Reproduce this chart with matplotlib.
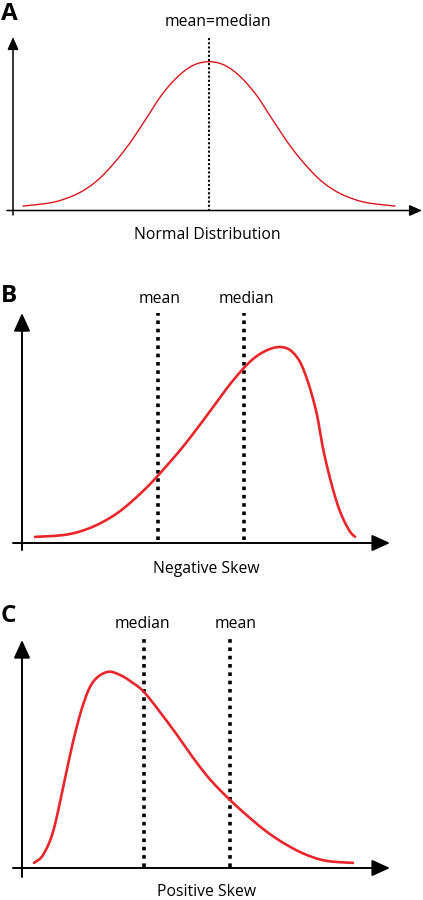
import matplotlib
matplotlib.use("Agg")
import matplotlib.pyplot as plt
import numpy as np

plt.rcParams['font.family'] = ['Open Sans', 'DejaVu Sans']

# --- data (x in arbitrary units, height normalised to peak = 1) ---
normal_x = [2.5, 9, 13, 17, 21, 25, 29, 33, 37, 41, 45, 49,
            53, 57, 61, 65, 69, 73, 77, 81, 85, 89, 95.5]
normal_y = [0.03, 0.05, 0.078, 0.125, 0.2, 0.31, 0.445, 0.605, 0.77, 0.895, 0.975, 1.0,
            0.975, 0.895, 0.77, 0.605, 0.445, 0.31, 0.2, 0.125, 0.078, 0.05, 0.03]
normal_lines = [49]
normal_labels = ['mean=median']

neg_x = [3.25, 8, 12, 16, 20, 24, 28, 32, 36, 40, 44, 48, 52, 56, 59, 62, 64.5,
         66.75, 68.75, 70.25, 72, 73.75, 75.25, 77, 78.75, 80.25, 82, 83.25]
neg_y = [0.031, 0.036, 0.046, 0.069, 0.105, 0.155, 0.222, 0.3, 0.39, 0.485, 0.59, 0.70, 0.81, 0.905, 0.958, 0.99, 1.0,
         0.988, 0.948, 0.891, 0.789, 0.653, 0.483, 0.33, 0.205, 0.125, 0.058, 0.032]
neg_lines = [34, 55.5]
neg_labels = ['mean', 'median']

pos_x = [3, 5.25, 7.75, 10.25, 12.75, 15.25, 17.75, 21.25, 24.5, 27.75, 30.5,
         34.5, 38.75, 42.75, 47, 51.75, 56.25, 61.25, 66.25, 71.25, 76.25, 82.75]
pos_y = [0.026, 0.066, 0.184, 0.408, 0.643, 0.832, 0.949, 1.0, 0.985, 0.944, 0.898,
         0.796, 0.679, 0.563, 0.452, 0.352, 0.268, 0.184, 0.117, 0.066, 0.036, 0.026]
pos_lines = [30.5, 52]
pos_labels = ['median', 'mean']

titles = ['Normal Distribution', 'Negative Skew', 'Positive Skew']
letters = ['A', 'B', 'C']

W, H = 423, 900


def smooth(x, y, n=24):
    # Catmull-Rom through the read points, just for drawing
    p = np.column_stack([x, y]).astype(float)
    p = np.vstack([p[0], p, p[-1]])
    out = []
    t = np.linspace(0, 1, n, endpoint=False)[:, None]
    for i in range(1, len(p) - 2):
        p0, p1, p2, p3 = p[i - 1], p[i], p[i + 1], p[i + 2]
        seg = 0.5 * (2 * p1 + (-p0 + p2) * t + (2 * p0 - 5 * p1 + 4 * p2 - p3) * t ** 2
                     + (-p0 + 3 * p1 - 3 * p2 + p3) * t ** 3)
        out.append(seg)
    out.append(p[-2][None])
    pts = np.vstack(out)
    return pts[:, 0], pts[:, 1]


def make_axes(fig, ox, oy, peak_px, top, bottom):
    # axes spanning the full width, origin of the drawn axes at pixel (ox, oy)
    ax = fig.add_axes([0, 1 - bottom / H, 1, (bottom - top) / H])
    ax.set_xlim(-ox / 4, (W - ox) / 4)
    ax.set_ylim((oy - bottom) / peak_px, (oy - top) / peak_px)
    ax.axis('off')
    return ax


def arrow(ax, start, tip, lw, hl, hw):
    ax.annotate('', xy=tip, xytext=start, annotation_clip=False,
                arrowprops=dict(arrowstyle=f'-|>,head_length={hl},head_width={hw}',
                                color='black', lw=lw, shrinkA=0, shrinkB=0))


fig = plt.figure(figsize=(W / 100, H / 100), dpi=100)

panels = [
    dict(x=normal_x, y=normal_y, lines=normal_lines, labels=normal_labels,
         ox=13, oy=210.5, peak=148.8, top=0, bottom=250,
         y_lo=-0.03, y_tip=1.166, x_lo=-1.5, x_tip=102.25,
         line_top=1.173, line_bot=-0.003, lab_x=[51.25], lab_y=1.24, title_x=48.5, title_y=-0.192,
         red='#d9161c', clw=1.0, alw=1.1, hl=0.75, hw=0.33,
         dot=dict(lw=1.5, dashes=(1.0, 1.0)), letter_y=20),
    dict(x=neg_x, y=neg_y, lines=neg_lines, labels=neg_labels,
         ox=22, oy=543, peak=196, top=270, bottom=580,
         y_lo=-0.036, y_tip=1.173, x_lo=-2.25, x_tip=92,
         line_top=1.173, line_bot=0.015, lab_x=[34.5, 56], lab_y=1.223, title_x=46, title_y=-0.152,
         red='#e8262b', clw=1.9, alw=1.4, hl=1.1, hw=0.5,
         dot=dict(lw=2.6, dashes=(1.0, 1.3)), letter_y=302),
    dict(x=pos_x, y=pos_y, lines=pos_lines, labels=pos_labels,
         ox=22, oy=868, peak=196, top=590, bottom=900,
         y_lo=-0.046, y_tip=1.163, x_lo=-2.25, x_tip=92,
         line_top=1.168, line_bot=0.005, lab_x=[30, 53.5], lab_y=1.223, title_x=46.25, title_y=-0.143,
         red='#e8262b', clw=1.9, alw=1.4, hl=1.1, hw=0.5,
         dot=dict(lw=2.6, dashes=(1.0, 1.3)), letter_y=622),
]

for p, title, letter in zip(panels, titles, letters):
    ax = make_axes(fig, p['ox'], p['oy'], p['peak'], p['top'], p['bottom'])

    # axes with arrow heads
    arrow(ax, (0, p['y_lo']), (0, p['y_tip']), p['alw'], p['hl'], p['hw'])
    arrow(ax, (p['x_lo'], 0), (p['x_tip'], 0), p['alw'], p['hl'], p['hw'])

    # mean / median markers
    for xv in p['lines']:
        ax.plot([xv, xv], [p['line_bot'], p['line_top']], color='black',
                lw=p['dot']['lw'], dashes=p['dot']['dashes'], solid_capstyle='butt',
                dash_capstyle='butt', clip_on=False)
    for xl, lab in zip(p['lab_x'], p['labels']):
        ax.text(xl, p['lab_y'], lab, ha='center', va='baseline', fontsize=11.3)

    sx, sy = smooth(p['x'], p['y'])
    ax.plot(sx, sy, color=p['red'], lw=p['clw'], solid_capstyle='round', clip_on=False)

    ax.text(p['title_x'], p['title_y'], title, ha='center', va='baseline', fontsize=11.3)

    fig.text(1 / W, 1 - p['letter_y'] / H, letter, ha='left', va='baseline',
             fontsize=17.5, fontweight='bold')

fig.savefig('out.png', dpi=100)
